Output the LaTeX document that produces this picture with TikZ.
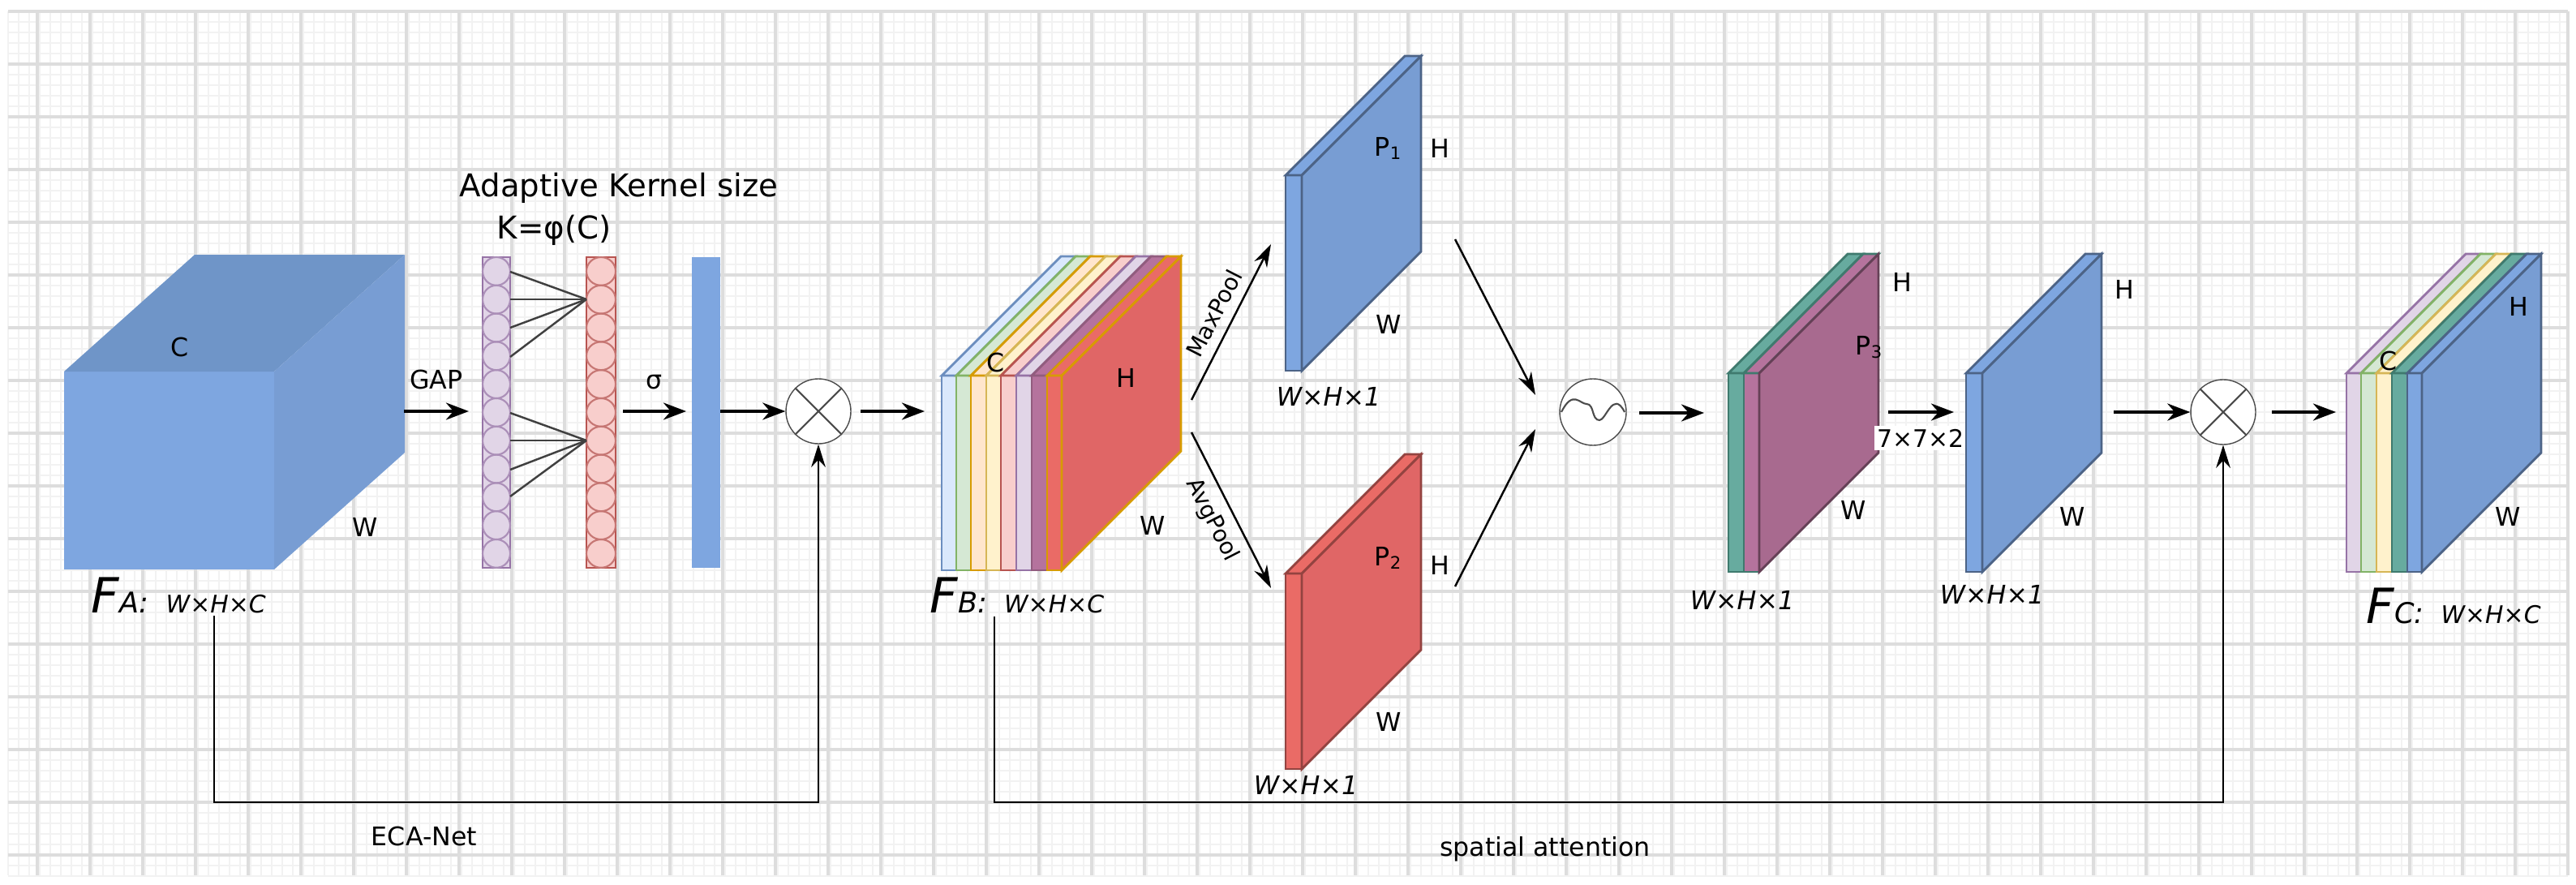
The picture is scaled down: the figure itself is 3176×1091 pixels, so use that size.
\documentclass[tikz,border=0pt]{standalone}
\usepackage{fontspec}
\setmainfont{DejaVu Sans}
\usetikzlibrary{arrows.meta}
\definecolor{fblue}{HTML}{7EA6E0}
\definecolor{sblue}{HTML}{789DD3}
\definecolor{tblue}{HTML}{6F95C8}
\definecolor{lblue}{HTML}{DAE8FC}\definecolor{lbluek}{HTML}{6C8EBF}
\definecolor{lgreen}{HTML}{D5E8D4}\definecolor{lgreenk}{HTML}{82B366}
\definecolor{lorange}{HTML}{FFE6CC}\definecolor{lorangek}{HTML}{D79B00}
\definecolor{lyellow}{HTML}{FFF2CC}\definecolor{lyellowk}{HTML}{D6B656}
\definecolor{lpink}{HTML}{F8CECC}\definecolor{lpinkk}{HTML}{B85450}
\definecolor{llav}{HTML}{E1D5E7}\definecolor{llavk}{HTML}{9673A6}
\definecolor{mpurple}{HTML}{B5739D}
\definecolor{mred}{HTML}{EA6B66}\definecolor{sred}{HTML}{E06666}
\definecolor{teal}{HTML}{67AB9F}\definecolor{tealk}{HTML}{3F7A6E}
\definecolor{ppur}{HTML}{A86A8F}
\definecolor{gridmaj}{HTML}{DDDDDD}\definecolor{gridmin}{HTML}{F2F2F2}
\newcommand\fslab[6]{% x, w, ytop, ybot, fill, stroke
  \filldraw[fill=#5,draw=#6,line width=0.8pt] (#1,#4) rectangle (#1+#2,#3);
  \filldraw[fill=#5,draw=#6,line width=0.8pt] (#1,#3) -- (#1+147,#3-147) -- (#1+#2+147,#3-147) -- (#1+#2,#3) -- cycle;}
\newcommand\fside[5]{% x, ytop, ybot, fill, stroke
  \filldraw[fill=#4,draw=#5,line width=0.8pt] (#1,#2) -- (#1+147,#2-147) -- (#1+147,#3-147) -- (#1,#3) -- cycle;}
\tikzset{lbl/.style={font=\fontsize{9}{10}\selectfont},
  dimlbl/.style={font=\fontsize{9}{10}\selectfont\itshape},
  arr/.style={-{Stealth[length=8pt,width=6pt]},line width=1pt},
  thinarr/.style={-{Stealth[length=8pt,width=5pt]},line width=0.7pt},
  opcirc/.style={circle,draw=black!70,fill=white,minimum size=80*0.01cm,inner sep=0pt}}
\newcommand\Flab[1]{{\fontsize{17}{18}\selectfont\itshape F}{\fontsize{10}{11}\selectfont\itshape #1:}\hspace{0.6em}{\fontsize{8.5}{10}\selectfont\itshape W×H×C}}
\begin{document}
\begin{tikzpicture}[x=0.01cm,y=-0.01cm]
\useasboundingbox (0,0) rectangle (3176,1091);
\fill[white] (0,0) rectangle (3176,1091);
\foreach \i in {0,...,242}{\draw[gridmin,line width=0.5pt] ({10+13*\i},14) -- ({10+13*\i},1079);}
\foreach \i in {0,...,82}{\draw[gridmin,line width=0.5pt] (10,{14+13*\i}) -- (3166,{14+13*\i});}
\foreach \i in {0,...,48}{\draw[gridmaj,line width=0.9pt] ({46+65*\i},14) -- ({46+65*\i},1079);}
\foreach \i in {0,...,16}{\draw[gridmaj,line width=0.9pt] (10,{14+65*\i}) -- (3166,{14+65*\i});}
% ---- FA cube
\fill[fblue] (79,458) rectangle (338,702);
\fill[tblue] (79,458) -- (240,314) -- (499,314) -- (338,458) -- cycle;
\fill[sblue] (338,458) -- (499,314) -- (499,558) -- (338,702) -- cycle;
\node[lbl] (fac) at (222,428) {C};
\node[lbl] (faw) at (450,650) {W};
\node[anchor=west,inner sep=0pt] (fa) at (112,734) {\Flab{A}};
% ---- kernel columns
\filldraw[fill=llav,draw=llavk,line width=0.8pt] (595,317) rectangle (629,700);
\filldraw[fill=lpink,draw=lpinkk,line width=0.8pt] (723,317) rectangle (759,700);
\foreach \i in {0,...,10}{
  \draw[llavk!80,line width=0.6pt] (612,{317+17.4+34.8*\i}) ellipse (17 and 17.4);
  \draw[lpinkk!80,line width=0.6pt] (741,{317+17.4+34.8*\i}) ellipse (18 and 17.4);}
\foreach \y in {335,369,404,440}{\draw[black!75,line width=0.7pt] (629,\y) -- (723,369);}
\foreach \y in {509,543,579,612}{\draw[black!75,line width=0.7pt] (629,\y) -- (723,543);}
\node[font=\fontsize{11}{13}\selectfont] (title) at (763,232) {Adaptive Kernel size};
\node[font=\fontsize{11}{13}\selectfont] (kphi) at (683,284) {K=φ(C)};
\fill[fblue] (853,317) rectangle (888,700);
\coordinate (gap1) at (498,507); \coordinate (gap2) at (578,507);
\draw[arr] (gap1) -- (gap2) node[midway,above=4pt,lbl] {GAP};
\coordinate (sg1) at (768,507); \coordinate (sg2) at (846,507);
\draw[arr] (sg1) -- (sg2) node[midway,above=4pt,lbl] {σ};
\node[opcirc] (m1) at (1009,507) {};
\draw[black!70,line width=0.6pt] (m1.north east) -- (m1.south west) (m1.north west) -- (m1.south east);
\coordinate (b1) at (888,507);
\draw[arr] (b1) -- (m1);
\coordinate (m1o) at (1061,507); \coordinate (fbin) at (1140,507);
\draw[arr] (m1o) -- (fbin);
% ---- FB stack
\fslab{1161}{18}{463}{703}{lblue}{lbluek}
\fslab{1179}{18}{463}{703}{lgreen}{lgreenk}
\fslab{1197}{19}{463}{703}{lorange}{lorangek}
\fslab{1216}{18}{463}{703}{lyellow}{lyellowk}
\fslab{1234}{19}{463}{703}{lpink}{lpinkk}
\fslab{1253}{19}{463}{703}{llav}{llavk}
\fslab{1272}{19}{463}{703}{mpurple}{mpurple!80!black}
\fslab{1291}{18}{463}{703}{mred}{lorangek}
\fside{1309}{463}{703}{sred}{lorangek}
\node[lbl] (fbc) at (1228,447) {C};
\node[lbl] (fbh) at (1388,466) {H};
\node[lbl] (fbw) at (1421,648) {W};
\node[anchor=west,inner sep=0pt] (fb) at (1146,734) {\Flab{B}};
% ---- P1, P2
\fslab{1585}{20}{216}{457}{fblue}{lbluek!70!black}
\fside{1605}{216}{457}{sblue}{lbluek!70!black}
\node[lbl] (p1) at (1712,183) {P\textsubscript{1}};
\node[lbl] (p1h) at (1775,183) {H};
\node[lbl] (p1w) at (1712,400) {W};
\node[dimlbl] (p1d) at (1638,489) {W×H×1};
\fslab{1585}{20}{707}{948}{mred}{lpinkk!80!black}
\fside{1605}{707}{948}{sred}{lpinkk!80!black}
\node[lbl] (p2) at (1712,688) {P\textsubscript{2}};
\node[lbl] (p2h) at (1775,697) {H};
\node[lbl] (p2w) at (1712,890) {W};
\node[dimlbl] (p2d) at (1610,968) {W×H×1};
\coordinate (mp1) at (1469,493); \coordinate (mp2) at (1567,301);
\draw[thinarr] (mp1) -- (mp2) node[midway,sloped,above,font=\fontsize{8}{9}\selectfont] {MaxPool};
\coordinate (ap1) at (1469,533); \coordinate (ap2) at (1567,725);
\draw[thinarr] (ap1) -- (ap2) node[midway,sloped,below,font=\fontsize{8}{9}\selectfont] {AvgPool};
\node[opcirc,minimum size=82*0.01cm] (sim) at (1964,508) {};
\draw[black!70,line width=0.6pt] ([xshift=-39*0.01cm]sim.center) .. controls ++(14,-28) and ++(-8,0) .. ([xshift=-8*0.01cm,yshift=10*0.01cm]sim.center) .. controls ++(10,0) and ++(-10,0) .. ([xshift=8*0.01cm,yshift=-10*0.01cm]sim.center) .. controls ++(8,0) and ++(-14,-28) .. ([xshift=39*0.01cm]sim.center);
\coordinate (c1) at (1794,295); \coordinate (c1e) at (1893,487);
\coordinate (c2) at (1794,723); \coordinate (c2e) at (1893,529);
\draw[thinarr] (c1) -- (c1e);
\draw[thinarr] (c2) -- (c2e);
\coordinate (simo) at (2021,509); \coordinate (p3in) at (2101,509);
\draw[arr] (simo) -- (p3in);
% ---- P3
\fslab{2131}{19}{460}{705}{teal}{tealk}
\fslab{2150}{19}{460}{705}{mpurple}{tealk}
\fside{2169}{460}{705}{ppur}{ppur!60!black}
\node[lbl] (p3h) at (2345,348) {H};
\node[lbl] (p3) at (2305,428) {P\textsubscript{3}};
\node[lbl] (p3w) at (2285,629) {W};
\node[dimlbl] (p3d) at (2148,740) {W×H×1};
\coordinate (k1) at (2328,508); \coordinate (k2) at (2409,508);
\draw[arr] (k1) -- (k2);
\node[font=\fontsize{8.5}{10}\selectfont,fill=white,inner sep=1pt] (kk) at (2368,540) {7×7×2};
% ---- blue plane
\fslab{2424}{20}{460}{705}{fblue}{lbluek!70!black}
\fside{2444}{460}{705}{sblue}{lbluek!70!black}
\node[lbl] (bh) at (2619,357) {H};
\node[lbl] (bw) at (2555,637) {W};
\node[dimlbl] (bd) at (2456,733) {W×H×1};
\node[opcirc] (m2) at (2741,508) {};
\draw[black!70,line width=0.6pt] (m2.north east) -- (m2.south west) (m2.north west) -- (m2.south east);
\coordinate (bo) at (2606,508);
\draw[arr] (bo) -- (m2);
\coordinate (m2o) at (2801,508); \coordinate (fcin) at (2880,508);
\draw[arr] (m2o) -- (fcin);
% ---- FC
\fslab{2893}{18}{460}{705}{llav}{llavk}
\fslab{2911}{19}{460}{705}{lgreen}{lgreenk}
\fslab{2930}{19}{460}{705}{lyellow}{lyellowk}
\fslab{2949}{19}{460}{705}{teal}{tealk}
\fslab{2968}{18}{460}{705}{fblue}{lbluek!70!black}
\fside{2986}{460}{705}{sblue}{lbluek!70!black}
\node[lbl] (fcc) at (2945,445) {C};
\node[lbl] (fch) at (3105,378) {H};
\node[lbl] (fcw) at (3092,637) {W};
\node[anchor=west,inner sep=0pt] (fc) at (2917,747) {\Flab{C}};
% ---- skip connections
\coordinate (s1) at (264,759); \coordinate (s1b) at (264,989); \coordinate (s1c) at (1009,989);
\draw[thinarr] (s1) -- (s1b) -- (s1c) -- (m1.south);
\node[lbl] (eca) at (523,1031) {ECA-Net};
\coordinate (s2) at (1226,760); \coordinate (s2b) at (1226,989); \coordinate (s2c) at (2741,989);
\draw[thinarr] (s2) -- (s2b) -- (s2c) -- (m2.south);
\node[lbl] (sa) at (1905,1047) {spatial attention};
\end{tikzpicture}
\end{document}
